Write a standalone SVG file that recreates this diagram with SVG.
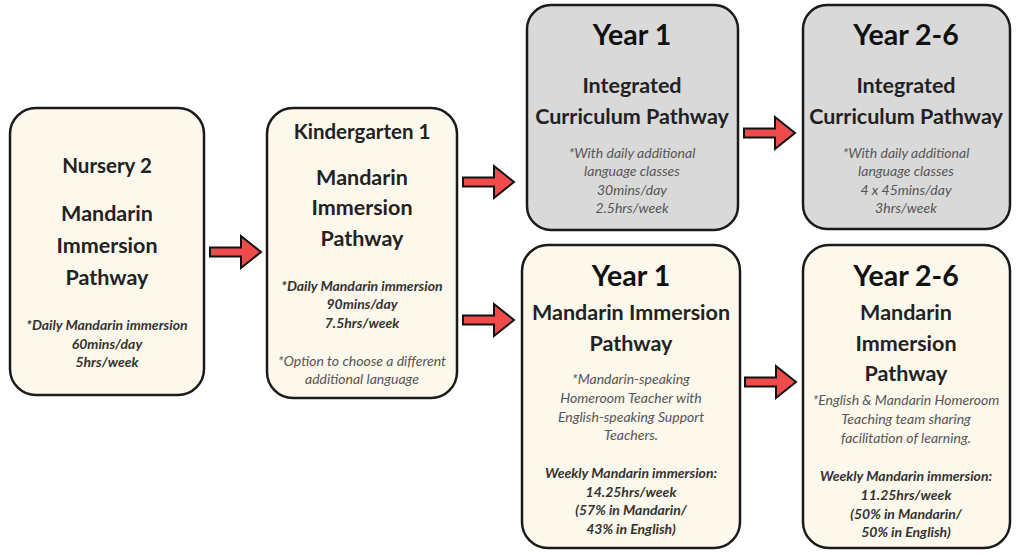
<svg xmlns="http://www.w3.org/2000/svg" width="1024" height="557" viewBox="0 0 1024 557">
<style>
.box{stroke:#1a1a1a;stroke-width:2.5}
.cream{fill:#FDF8EC}
.grey{fill:#D9D9D9}
text{font-family:Lato,"Liberation Sans",sans-serif;text-anchor:middle;dominant-baseline:central}
.h1{font-size:28.5px;font-weight:bold;fill:#111}
.h2{font-size:21.5px;font-weight:bold;fill:#222}
.h3{font-size:20.5px;font-weight:bold;fill:#222}
.bi{font-size:14px;font-weight:bold;font-style:italic;fill:#333}
.it{font-size:14px;font-style:italic;fill:#555}
.arrow{fill:#EF4B4B;stroke:#111;stroke-width:2;stroke-linejoin:miter}
</style>
<defs>
<path id="arr" d="M0,-4.5 L31,-4.5 L31,-16 L51,0 L31,16 L31,4.5 L0,4.5 Z"/>
</defs>
<rect width="1024" height="557" fill="#fff"/>

<g id="nursery2">
<rect class="box cream" x="10" y="108" width="194" height="287" rx="26"/>
<text class="h3" x="107" y="165">Nursery 2</text>
<text class="h2" x="107" y="213">Mandarin</text>
<text class="h2" x="107" y="245">Immersion</text>
<text class="h2" x="107" y="277">Pathway</text>
<text class="bi" x="107" y="324">*Daily Mandarin immersion</text>
<text class="bi" x="107" y="343">60mins/day</text>
<text class="bi" x="107" y="361">5hrs/week</text>
</g>

<g id="kindergarten1">
<rect class="box cream" x="267" y="108" width="190" height="290" rx="26"/>
<text class="h3" x="362" y="131">Kindergarten 1</text>
<text class="h2" x="362" y="177">Mandarin</text>
<text class="h2" x="362" y="207">Immersion</text>
<text class="h2" x="362" y="238">Pathway</text>
<text class="bi" x="362" y="285">*Daily Mandarin immersion</text>
<text class="bi" x="362" y="303">90mins/day</text>
<text class="bi" x="362" y="322">7.5hrs/week</text>
<text class="it" x="362" y="360">*Option to choose a different</text>
<text class="it" x="362" y="378">additional language</text>
</g>

<g id="year1-icp">
<rect class="box grey" x="527" y="5" width="211" height="225" rx="24"/>
<text class="h1" x="632" y="34">Year 1</text>
<text class="h2" x="632" y="85">Integrated</text>
<text class="h2" x="632" y="116">Curriculum Pathway</text>
<text class="it" x="632" y="152">*With daily additional</text>
<text class="it" x="632" y="170">language classes</text>
<text class="it" x="632" y="189">30mins/day</text>
<text class="it" x="632" y="207">2.5hrs/week</text>
</g>

<g id="year26-icp">
<rect class="box grey" x="803" y="5" width="207" height="224" rx="24"/>
<text class="h1" x="906" y="34">Year 2-6</text>
<text class="h2" x="906" y="85">Integrated</text>
<text class="h2" x="906" y="116">Curriculum Pathway</text>
<text class="it" x="906" y="152">*With daily additional</text>
<text class="it" x="906" y="170">language classes</text>
<text class="it" x="906" y="189">4 x 45mins/day</text>
<text class="it" x="906" y="207">3hrs/week</text>
</g>

<g id="year1-mip">
<rect class="box cream" x="522" y="245" width="218" height="303" rx="26"/>
<text class="h1" x="631" y="275">Year 1</text>
<text class="h2" x="631" y="312">Mandarin Immersion</text>
<text class="h2" x="631" y="343">Pathway</text>
<text class="it" x="631" y="378">*Mandarin-speaking</text>
<text class="it" x="631" y="397">Homeroom Teacher with</text>
<text class="it" x="631" y="416">English-speaking Support</text>
<text class="it" x="631" y="434">Teachers.</text>
<text class="bi" x="631" y="472">Weekly Mandarin immersion:</text>
<text class="bi" x="631" y="491">14.25hrs/week</text>
<text class="bi" x="631" y="509">(57% in Mandarin/</text>
<text class="bi" x="631" y="528">43% in English)</text>
</g>

<g id="year26-mip">
<rect class="box cream" x="803" y="245" width="207" height="303" rx="26"/>
<text class="h1" x="906" y="275">Year 2-6</text>
<text class="h2" x="906" y="312">Mandarin</text>
<text class="h2" x="906" y="343">Immersion</text>
<text class="h2" x="906" y="373">Pathway</text>
<text class="it" x="906" y="399">*English &amp; Mandarin Homeroom</text>
<text class="it" x="906" y="418">Teaching team sharing</text>
<text class="it" x="906" y="437">facilitation of learning.</text>
<text class="bi" x="906" y="475">Weekly Mandarin immersion:</text>
<text class="bi" x="906" y="494">11.25hrs/week</text>
<text class="bi" x="906" y="513">(50% in Mandarin/</text>
<text class="bi" x="906" y="531">50% in English)</text>
</g>

<g id="connectors">
<use href="#arr" class="arrow" transform="translate(210,252)"/>
<use href="#arr" class="arrow" transform="translate(463,182)"/>
<use href="#arr" class="arrow" transform="translate(463,320)"/>
<use href="#arr" class="arrow" transform="translate(744,133)"/>
<use href="#arr" class="arrow" transform="translate(745,382)"/>
</g>
</svg>
